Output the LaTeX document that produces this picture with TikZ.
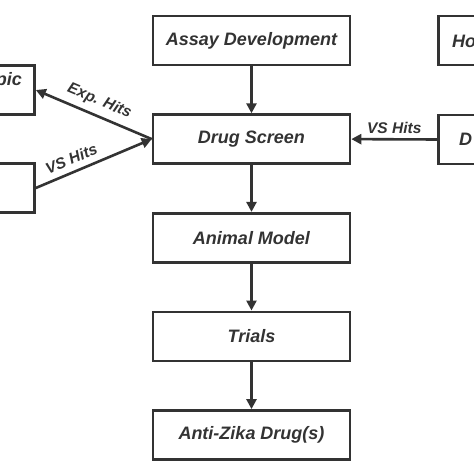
\documentclass[tikz,border=0pt]{standalone}
\usepackage{fontspec}
\setmainfont{Liberation Sans}
\usetikzlibrary{positioning}
\usetikzlibrary{arrows.meta}
\definecolor{boxgray}{HTML}{333333}

\begin{document}
\begin{tikzpicture}[x=1pt,y=-1pt,>={Triangle[length=10pt,width=10pt]},
  stage/.style={draw=boxgray,line width=2.6pt,minimum width=197pt,minimum height=49pt,inner sep=0pt,text=boxgray,font=\fontsize{18}{20}\selectfont\bfseries\itshape},
  frag/.style={inner sep=0pt,text=boxgray,font=\fontsize{18}{20}\selectfont\bfseries\itshape},
  hit/.style={inner sep=2pt,text=boxgray,font=\fontsize{15.5}{17}\selectfont\bfseries\itshape},
  flow/.style={draw=boxgray,line width=2.6pt,->}]
\useasboundingbox (0,0) rectangle (474,474);
\clip (0,0) rectangle (474,474);
% main column
\node[stage] (assay) at (251.5,40.5) {Assay Development};
\node[stage,below=47pt of assay] (screen) {Drug Screen};
\node[stage,below=47pt of screen] (animal) {Animal Model};
\node[stage,below=47pt of animal] (trials) {Trials};
\node[stage,below=47pt of trials] (drug) {Anti-Zika Drug(s)};
% side boxes, cut by the edge
\node[stage] (pheno) at (-64,90) {};
\node[stage] (vsleft) at (-64,188) {};
\node[stage] (homol) at (537,40.5) {};
\node[stage] (dock) at (537,139.5) {};
\node[frag,anchor=base east] (phenotxt) at (22,85) {pic};
\node[frag,anchor=base west] (homoltxt) at (452,47) {Ho};
\node[frag,anchor=base west] (docktxt) at (459,145) {D};
% connectors
\draw[flow] (assay) -- (screen);
\draw[flow] (screen) -- (animal);
\draw[flow] (animal) -- (trials);
\draw[flow] (trials) -- (drug);
\draw[flow] (screen.west) -- node[hit,midway,sloped,above=4pt] {Exp. Hits} (pheno.east);
\draw[flow] (vsleft.east) -- node[hit,pos=0.35,sloped,above=4pt] {VS Hits} (screen.west);
\draw[flow] (dock.west) -- node[hit,midway,above=2pt] {VS Hits} (screen.east);
\end{tikzpicture}
\end{document}
